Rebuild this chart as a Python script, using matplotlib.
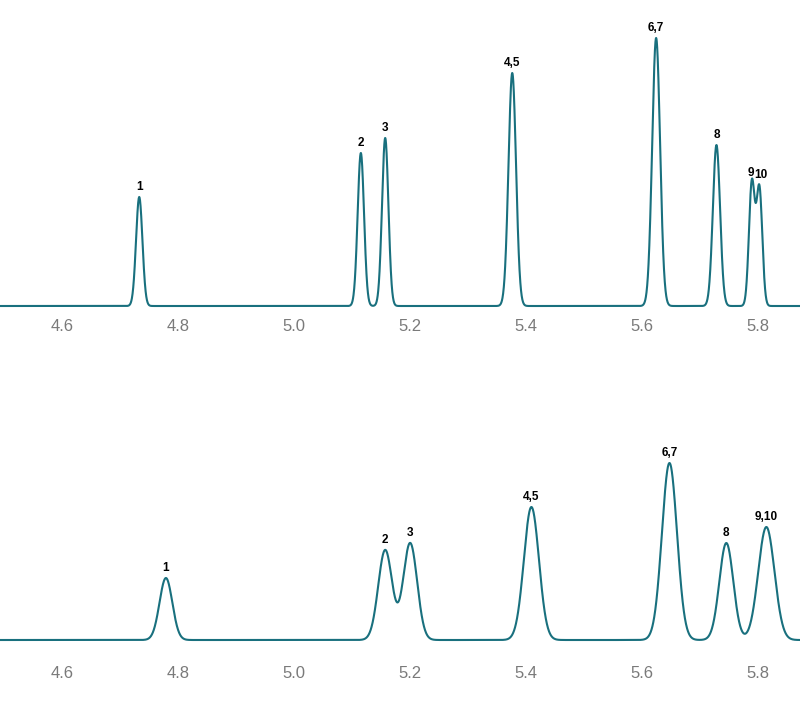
import numpy as np
import matplotlib
matplotlib.use('Agg')
import matplotlib.pyplot as plt

# Cromatograma superior (picos estreitos)
top_labels = ["1", "2", "3", "4,5", "6,7", "8", "9", "10"]
top_rt = [4.733, 5.115, 5.157, 5.376, 5.624, 5.728, 5.789, 5.802]
top_height = [109, 153, 168, 233, 268, 161, 123, 117]
top_sigma = [0.0055, 0.0055, 0.0055, 0.0065, 0.0068, 0.0062, 0.005, 0.005]

# Cromatograma inferior (picos largos)
bot_labels = ["1", "2", "3", "4,5", "6,7", "8", "9,10"]
bot_rt = [4.779, 5.157, 5.200, 5.409, 5.647, 5.745, 5.814]
bot_height = [62, 90, 97, 133, 177, 97, 113]
bot_sigma = [0.011, 0.012, 0.012, 0.013, 0.013, 0.012, 0.014]

xticks = [4.6, 4.8, 5.0, 5.2, 5.4, 5.6, 5.8]
xlim = (4.493, 5.872)

LINE = '#19707e'
W, H = 810, 704


def trace(x, rt, h, s):
    y = np.zeros_like(x)
    for r, hh, ss in zip(rt, h, s):
        y += hh * np.exp(-(x - r) ** 2 / (2 * ss ** 2))
    return y


def panel(ax, rt, h, s, labels, pad, label_pos=None):
    x = np.linspace(xlim[0], xlim[1], 6000)
    y = trace(x, rt, h, s)
    ax.plot(x, y, color=LINE, lw=1.5, solid_capstyle='round')
    for i, (r, lab) in enumerate(zip(rt, labels)):
        peak = trace(np.array([r]), rt, h, s)[0]
        dx, dy = (0, 0) if label_pos is None else label_pos.get(i, (0, 0))
        ax.text(r + dx, peak + 4 + dy, lab, ha='center', va='bottom',
                fontsize=8.5, fontweight='bold', color='black',
                family=['Liberation Sans', 'DejaVu Sans'])
    ax.set_xlim(*xlim)
    ax.set_xticks(xticks)
    ax.set_xticklabels([f"{t:.1f}" for t in xticks])
    ax.tick_params(axis='x', length=0, pad=pad, labelsize=12, labelcolor='#7a7a7a')
    for lbl in ax.get_xticklabels():
        lbl.set_family(['Liberation Sans Narrow', 'Liberation Sans', 'DejaVu Sans'])
    ax.set_yticks([])
    for sp in ax.spines.values():
        sp.set_visible(False)


fig = plt.figure(figsize=(W / 100, H / 100), dpi=100)

ax1 = fig.add_axes([0, 1 - 308 / H, 800 / W, 308 / H])
ax1.set_ylim(-2, 306)
panel(ax1, top_rt, top_height, top_sigma, top_labels, pad=8,
      label_pos={6: (-0.001, -4), 7: (0.002, 0)})

ax2 = fig.add_axes([0, 1 - 642 / H, 800 / W, 302 / H])
ax2.set_ylim(-2, 300)
panel(ax2, bot_rt, bot_height, bot_sigma, bot_labels, pad=17)

fig.savefig('out.png', dpi=100, facecolor='white')
